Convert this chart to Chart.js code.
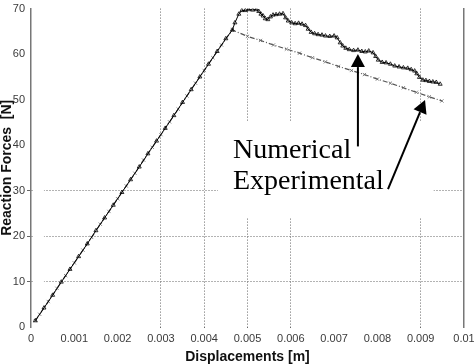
<!DOCTYPE html>
<html><head><meta charset="utf-8">
<script src="https://cdn.jsdelivr.net/npm/chart.js@4"></script>
<style>html,body{margin:0;padding:0;background:#fff;overflow:hidden}</style>
</head><body>
<canvas id="c" width="474" height="364"></canvas>
<script>
// ---- data ----
const xTickLabels = ['0','0.001','0.002','0.003','0.004','0.005','0.006','0.007','0.008','0.009','0.01'];
const xTitle = 'Displacements [m]';
const yTitle = 'Reaction Forces  [N]';

const numericalX = [0.0001,0.0003,0.0005,0.0007,0.0009,0.0011,0.0013,0.0015,0.0017,0.0019,0.0021,0.0023,0.0025,0.0027,0.0029,0.0031,0.0033,0.0035,0.0037,0.0039,0.0041,0.0043,0.0045,
  0.00465,0.00471,0.0048,0.00487,0.00495,0.00503,0.00512,0.0052,0.00526,0.00531,0.00536,0.00541,0.00547,0.00553,0.00559,0.00566,
  0.00574,0.00582,0.00588,0.00594,0.00602,0.0061,0.00618,0.00626,0.00634,0.0064,0.00647,0.00655,0.00663,0.00672,0.0068,0.0069,
  0.007,0.00707,0.00714,0.0072,0.00727,0.00735,0.00745,0.00755,0.00764,0.00772,0.0078,0.0079,0.00796,0.00802,0.00811,0.0082,
  0.0083,0.0084,0.0085,0.0086,0.0087,0.00878,0.00886,0.00891,0.00897,0.00905,0.00912,0.0092,0.00928,0.00936,0.00945];
const numericalY = [1.4,4.2,7.0,9.9,12.7,15.5,18.3,21.2,24.0,26.8,29.6,32.4,35.2,38.1,40.9,43.7,46.5,49.4,52.2,55.0,57.8,60.6,63.4,
  65.3,66.9,68.8,69.6,69.6,69.8,69.7,69.8,69.4,68.8,68.4,67.8,67.6,68.2,68.6,68.7,
  68.8,68.9,68.0,67.3,66.9,66.7,66.8,66.6,66.3,65.5,64.8,64.5,64.3,64.2,64.0,63.9,
  64.0,63.6,62.5,61.8,61.3,61.0,60.8,60.9,60.6,60.5,60.7,60.3,59.5,58.7,58.2,58.1,
  57.8,57.4,57.2,57.0,56.9,56.6,56.3,55.7,54.9,54.3,54.2,54.0,53.9,53.8,53.4];

const experimentalX = [0.0001,0.0002,0.0004,0.0006,0.0008,0.001,0.0012,0.0014,0.0016,0.0018,0.002,0.0022,0.0024,0.0026,0.0028,0.003,0.0032,0.0034,0.0036,0.0038,0.004,0.0042,0.0044,
  0.00465,0.005,0.0053,0.0056,0.0059,0.0062,0.0065,0.0068,0.0071,0.0074,0.0077,0.008,0.0083,0.0086,0.0089,0.0092,0.00949];
const experimentalY = [1.4,2.8,5.6,8.5,11.3,14.1,16.9,19.7,22.6,25.4,28.2,31.0,33.8,36.7,39.5,42.3,45.1,47.9,50.8,53.6,56.4,59.2,62.0,
  65.3,63.9,63.0,62.0,61.1,60.2,59.2,58.3,57.3,56.4,55.5,54.5,53.6,52.6,51.6,50.6,49.7];

// annotation labels and arrows (in data units)
const labelTexts = ['Numerical','Experimental'];
const labelAnchors = [[0.004665,37.1],[0.004665,30.3]];
const arrowTails = [[0.00755,39.7],[0.008245,30.3]];
const arrowTips  = [[0.00755,60.0],[0.0091,49.9]];
// regions where the grid is blanked in the original figure (data units)
const blankRegions = [[0.0043,45.1,0.00928,24.2],[0.00003,70,0.00028,0]];

const hiddenX = [0,1,2,7,8,10];
const hiddenY = [0,4,5,6,7];

const toPts = (xs, ys) => xs.map((x,i)=>({x, y: ys[i]}));

const overlay = {
  id: 'overlay',
  beforeDatasetsDraw(chart){
    const {ctx, scales:{x,y}} = chart;
    ctx.save();
    ctx.fillStyle = '#fff';
    blankRegions.forEach(r=>{
      const x0=x.getPixelForValue(r[0]), y0=y.getPixelForValue(r[1]);
      const x1=x.getPixelForValue(r[2]), y1=y.getPixelForValue(r[3]);
      ctx.fillRect(Math.min(x0,x1)+0.8, Math.min(y0,y1)-0.5, Math.abs(x1-x0), Math.abs(y1-y0)+1);
    });
    ctx.restore();
  },
  afterDatasetsDraw(chart){
    const {ctx, scales:{x,y}} = chart;
    ctx.save();
    ctx.fillStyle = '#000';
    ctx.font = '28px "Liberation Serif", "Times New Roman", serif';
    ctx.textBaseline = 'alphabetic';
    ctx.textAlign = 'left';
    labelTexts.forEach((t,i)=>{
      ctx.fillText(t, x.getPixelForValue(labelAnchors[i][0]), y.getPixelForValue(labelAnchors[i][1]));
    });
    ctx.strokeStyle = '#000';
    ctx.lineWidth = 2;
    arrowTails.forEach((tail,i)=>{
      const tx=x.getPixelForValue(tail[0]), ty=y.getPixelForValue(tail[1]);
      const hx=x.getPixelForValue(arrowTips[i][0]), hy=y.getPixelForValue(arrowTips[i][1]);
      const ang=Math.atan2(hy-ty,hx-tx), L=13, W=7;
      const bx=hx-L*Math.cos(ang), by=hy-L*Math.sin(ang);
      ctx.beginPath(); ctx.moveTo(tx,ty); ctx.lineTo(bx,by); ctx.stroke();
      ctx.beginPath();
      ctx.moveTo(hx,hy);
      ctx.lineTo(bx+W*Math.sin(ang), by-W*Math.cos(ang));
      ctx.lineTo(bx-W*Math.sin(ang), by+W*Math.cos(ang));
      ctx.closePath(); ctx.fill();
    });
    ctx.restore();
  }
};

const tickFont = {family: 'Arial, "Liberation Sans", sans-serif', size: 11};
const titleFont = {family: 'Arial, "Liberation Sans", sans-serif', size: 14, weight: 'bold', lineHeight: 1};
const gridCol = '#666';

new Chart(document.getElementById('c'), {
  type: 'line',
  data: {
    datasets: [
      {
        label: 'Numerical',
        data: toPts(numericalX, numericalY),
        borderColor: '#000', borderWidth: 1,
        pointStyle: 'triangle', pointRadius: 2.3, pointBorderWidth: 0.8,
        pointBorderColor: '#000', pointBackgroundColor: 'rgba(255,255,255,0)',
        tension: 0, order: 1
      },
      {
        label: 'Experimental',
        data: toPts(experimentalX, experimentalY),
        borderColor: '#555', borderWidth: 1.2, borderDash: [5,2,1,2],
        pointStyle: 'crossRot', pointRadius: 2.3, pointBorderWidth: 0.8,
        pointBorderColor: '#666',
        tension: 0, order: 2
      }
    ]
  },
  options: {
    responsive: false, animation: false, devicePixelRatio: 1,
    layout: {padding: {top: 6, right: 10, left: 0, bottom: 0}},
    plugins: {legend: {display: false}, tooltip: {enabled: false}},
    scales: {
      x: {
        type: 'linear', min: 0, max: 0.01,
        afterFit(s){ s.height = 37; s.paddingLeft = 0; s.paddingRight = 0; },
        border: {display: false, dash: [1,2]},
        grid: {
          color: c => hiddenX.includes(c.index) ? 'rgba(0,0,0,0)' : gridCol,
          tickColor: c => hiddenX.includes(c.index) ? 'rgba(0,0,0,0)' : gridCol,
          lineWidth: 1, drawTicks: true, tickLength: 3, tickBorderDash: [1,2]
        },
        ticks: {
          stepSize: 0.001, autoSkip: false, maxRotation: 0, padding: 2,
          color: '#3a3a3a', font: tickFont,
          callback: (v, i) => xTickLabels[i]
        },
        title: {display: true, text: xTitle, color: '#111', font: titleFont, padding: {top: 0, bottom: 0}}
      },
      y: {
        type: 'linear', min: 0, max: 70,
        afterFit(s){ s.width = 31; },
        border: {display: true, color: '#777', width: 1.5, dash: [1,2]},
        grid: {
          color: c => hiddenY.includes(c.index) ? 'rgba(0,0,0,0)' : gridCol,
          tickColor: c => hiddenY.includes(c.index) ? 'rgba(0,0,0,0)' : gridCol,
          lineWidth: 1, drawTicks: true, tickLength: 4
        },
        ticks: {stepSize: 10, padding: 2, color: '#3a3a3a', font: tickFont},
        title: {display: true, text: yTitle, color: '#111', font: titleFont, padding: {top: 0, bottom: 0}}
      },
      y2: {
        type: 'linear', position: 'right', min: 0, max: 70,
        afterFit(s){ s.width = 0; },
        border: {display: true, color: '#777', width: 1.5},
        grid: {display: false, drawTicks: false},
        ticks: {display: false}
      }
    }
  },
  plugins: [overlay]
});
</script>
</body></html>
